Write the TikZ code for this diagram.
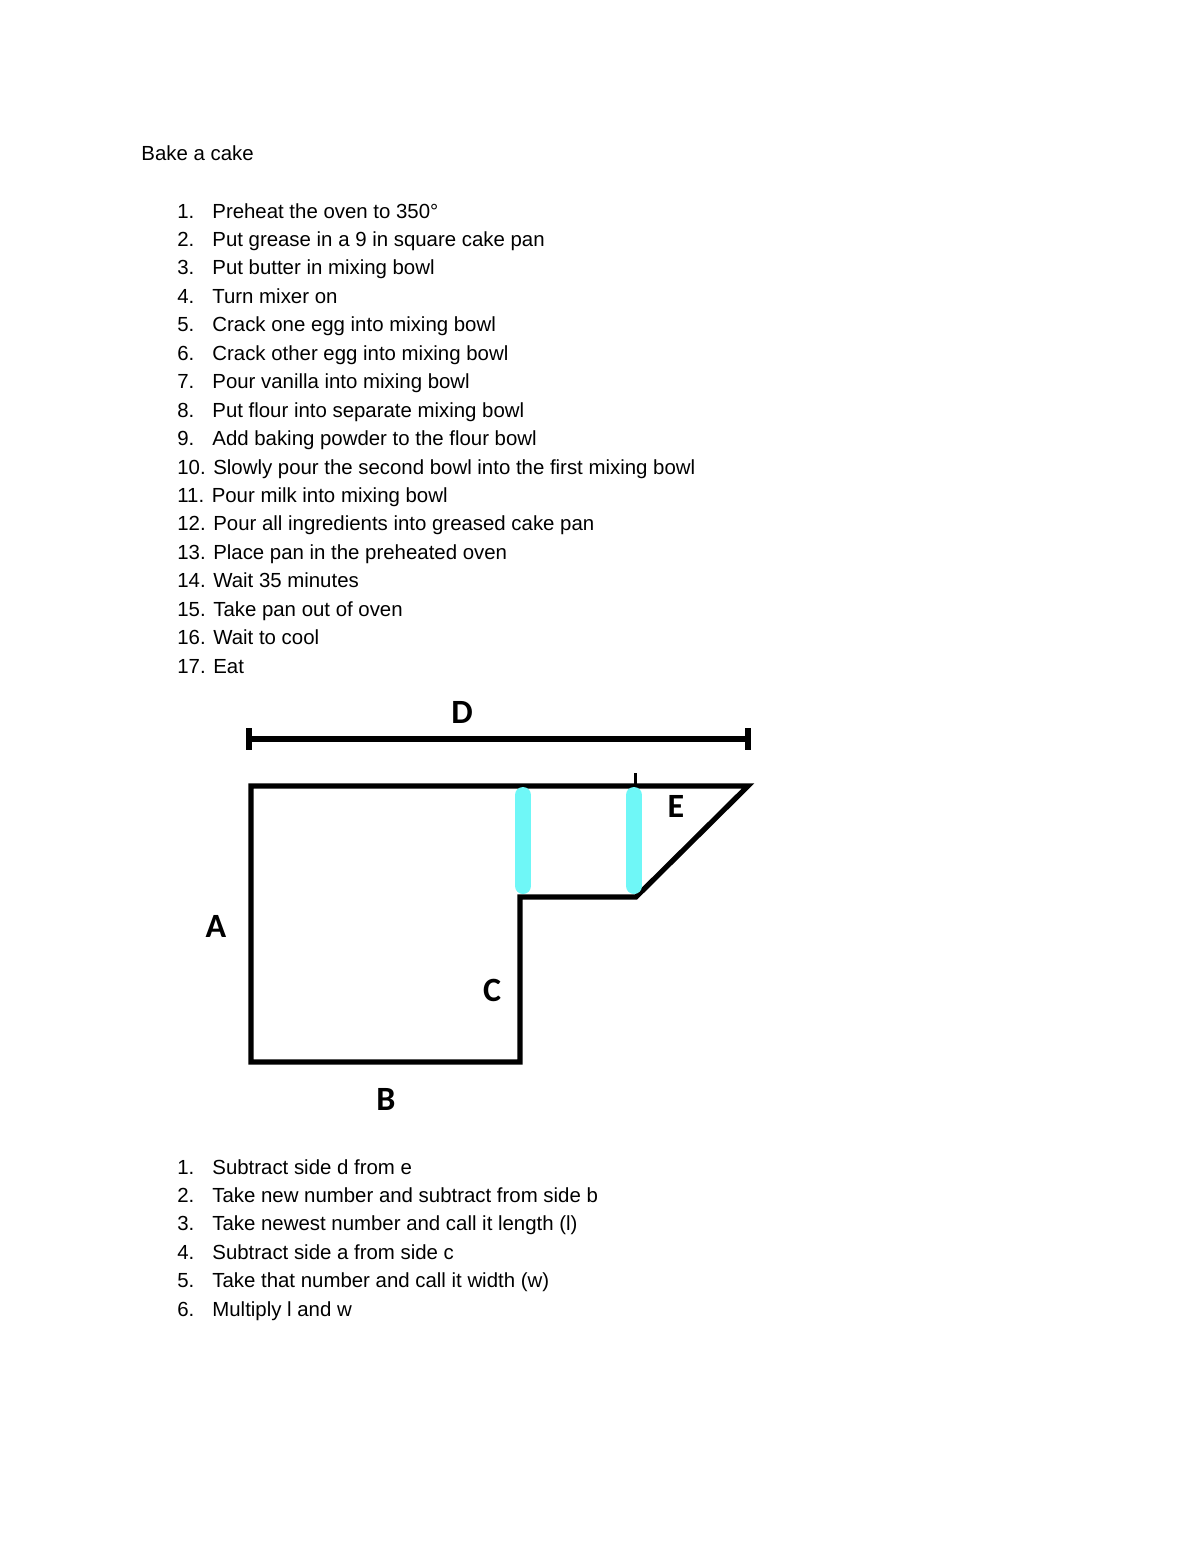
\documentclass[tikz,border=0pt]{standalone}
\usepackage{fontspec}
\setmainfont{Liberation Sans}
\newfontfamily\lbl{Carlito}
\begin{document}
\begin{tikzpicture}[x=0.5pt,y=-0.5pt,
  txt/.style={anchor=base west,inner sep=0pt,font=\fontsize{10.2pt}{12pt}\selectfont},
  lab/.style={inner sep=0pt,font=\lbl\bfseries\fontsize{17pt}{18pt}\selectfont},
  edge/.style={line width=2.6pt,line join=miter},
  hl/.style={line width=8pt,color=cyanhl,line cap=round}]
\definecolor{cyanhl}{HTML}{6FF7F7}
\useasboundingbox (0,0) rectangle (1200,1553);
\node[txt] (title) at (141,160) {Bake a cake};
\foreach \t [count=\i] in {Preheat the oven to 350°,Put grease in a 9 in square cake pan,Put butter in mixing bowl,Turn mixer on,Crack one egg into mixing bowl,Crack other egg into mixing bowl,Pour vanilla into mixing bowl,Put flour into separate mixing bowl,Add baking powder to the flour bowl,Slowly pour the second bowl into the first mixing bowl,Pour milk into mixing bowl,Pour all ingredients into greased cake pan,Place pan in the preheated oven,Wait 35 minutes,Take pan out of oven,Wait to cool,Eat}{
  \pgfmathsetmacro\yy{218+28.45*(\i-1)}
  \ifnum\i<10
    \node[txt] (n\i) at (177,\yy) {\i.};
    \node[txt] (s\i) at (212,\yy) {\t};
  \else
    \node[txt] (s\i) at (177,\yy) {\i. \t};
  \fi
}
\foreach \t [count=\i] in {Subtract side d from e,Take new number and subtract from side b,Take newest number and call it length (l),Subtract side a from side c,Take that number and call it width (w),Multiply l and w}{
  \pgfmathsetmacro\yy{1174+28.4*(\i-1)}
  \node[txt] (m\i) at (177,\yy) {\i.};
  \node[txt] (t\i) at (212,\yy) {\t};
}
% dimension D
\draw[edge] (249,739) -- (748,739);
\draw[edge] (249,728) -- (249,750);
\draw[edge] (748,728) -- (748,750);
% shape
\draw[edge] (251,786) -- (748,786) -- (636,897) -- (520,897) -- (520,1062) -- (251,1062) -- cycle;
\draw[line width=1.5pt] (635,773) -- (635,786);
\draw[hl] (523,795) -- (523,886);
\draw[hl] (634,795) -- (634,886);
\node[lab] (D) at (462,712) {D};
\node[lab] (E) at (676,806) {E};
\node[lab] (A) at (216,926) {A};
\node[lab] (C) at (492,990) {C};
\node[lab] (B) at (386,1099) {B};
\end{tikzpicture}
\end{document}
